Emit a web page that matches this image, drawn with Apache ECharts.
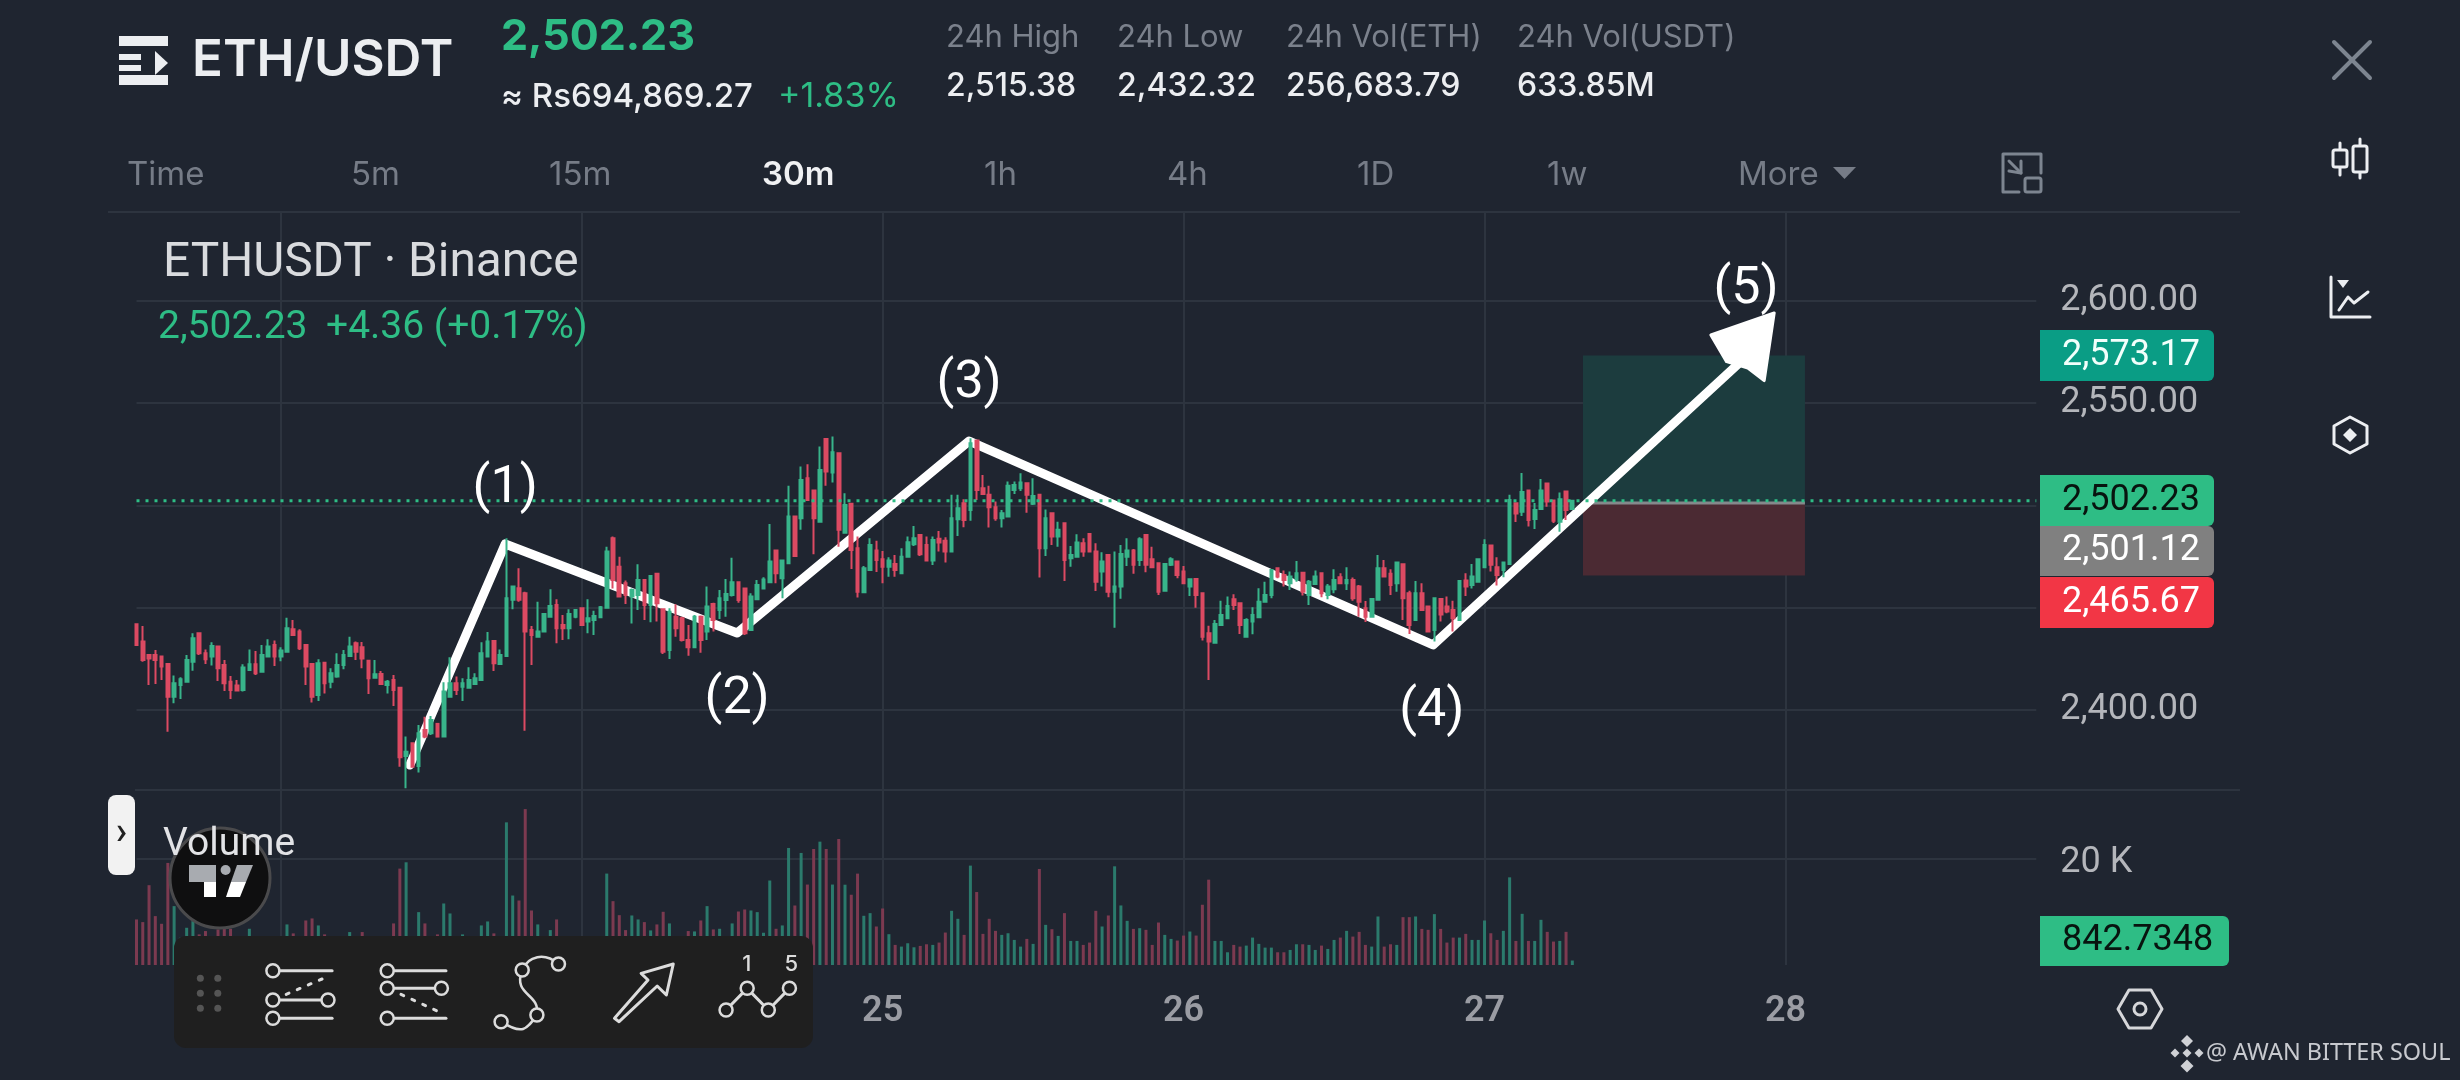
<!DOCTYPE html>
<html><head><meta charset="utf-8">
<style>html,body{margin:0;padding:0;background:#1f2530}#c{width:2460px;height:1080px}</style>
<script src="https://cdn.jsdelivr.net/npm/echarts@6/dist/echarts.min.js"></script>
</head><body><div id="c"></div>
<script>
const opens=[2441.9,2433.4,2426.9,2426.9,2426.1,2422.5,2406.5,2412.2,2413.8,2423.6,
2437.5,2427.7,2426.1,2431.0,2422.0,2413.8,2411.9,2409.8,2419.5,2422.3,
2418.7,2426.1,2431.8,2426.1,2428.5,2439.4,2438.3,2431.8,2422.5,2407.3,
2423.1,2413.8,2416.3,2422.0,2426.4,2432.6,2430.6,2424.1,2415.8,2417.6,
2412.2,2414.7,2410.8,2377.5,2383.7,2372.6,2390.2,2388.6,2393.2,2387.0,
2406.5,2413.0,2411.4,2410.9,2412.7,2414.7,2426.1,2433.7,2422.5,2426.4,
2453.8,2459.5,2457.0,2439.1,2435.8,2438.3,2445.6,2451.3,2441.5,2439.9,
2445.6,2449.7,2443.2,2444.0,2445.3,
2450.0,2483.9,2470.0,2461.9,2455.4,2456.2,2463.5,2451.3,2466.5,2449.2,
2429.3,2445.6,2444.8,2434.2,2430.6,2445.6,2438.3,2451.8,2448.9,2453.7,
2456.2,2462.4,2459.4,2439.1,2454.1,2459.4,2462.4,2477.9,2464.3,2471.7,
2494.5,2493.7,2513.2,2507.2,2492.0,2532.4,2516.0,2525.4,2486.6,2500.7,
2479.0,2457.5,2468.4,2477.9,2473.6,2470.0,2471.3,2466.8,2474.9,2481.0,
2485.5,2480.6,2473.0,2483.6,2482.7,2477.4,2493.2,2501.0,2497.7,2531.6,
2508.3,2505.1,2499.0,2493.7,2494.5,2507.5,2508.3,2510.8,2500.7,2505.1,
2479.0,2496.1,2484.7,2491.2,2474.1,2474.9,2481.4,2486.0,2477.4,
2467.6,2475.7,2457.8,2460.3,2474.9,2477.9,2473.3,2485.5,2473.6,2471.7,
2458.3,2470.9,2472.5,2467.6,2460.3,2464.0,2457.0,2437.5,2432.9,2441.5,
2444.8,2454.1,2452.1,2435.8,2443.2,2445.3,2452.9,2456.2,2469.2,2466.0,
2461.9,2463.9,2467.1,2456.2,2461.6,2466.8,2456.2,2459.0,2464.8,2461.9,
2463.5,2460.3,2449.7,2445.6,2453.8,2469.2,2466.5,2461.9,2471.2,2457.0,
2444.0,2457.0,2450.5,2439.1,2454.2,2450.5,2448.9,2444.0,2463.2,2461.1,
2462.7,2469.7,2480.3,2469.7,2468.4,2471.3,2501.0,2496.8,2507.2,2493.3,
2498.2,2510.7,2502.3,2492.0,2506.7,2498.2];
const closes=[2431.8,2424.4,2425.2,2424.4,2421.2,2406.5,2413.0,2415.0,2424.4,2435.0,
2427.7,2424.8,2431.3,2420.4,2413.0,2409.8,2409.5,2420.7,2422.3,2417.9,
2426.9,2431.0,2426.1,2429.0,2439.9,2436.6,2430.1,2421.2,2406.5,2422.8,
2413.0,2417.9,2422.0,2426.9,2431.0,2428.5,2425.2,2415.5,2417.4,2412.7,
2413.8,2409.8,2376.9,2379.6,2372.3,2388.6,2387.0,2395.1,2387.0,2409.0,
2413.0,2409.8,2413.0,2414.7,2415.5,2427.7,2433.4,2422.8,2426.9,2454.6,
2460.3,2453.8,2438.3,2436.6,2438.3,2446.9,2450.8,2439.9,2439.9,2446.9,
2448.9,2441.5,2444.8,2445.9,2450.2,
2477.4,2463.5,2455.4,2456.2,2458.6,2463.5,2451.3,2465.5,2452.1,2428.5,
2448.0,2439.9,2434.2,2430.6,2445.6,2434.2,2450.5,2444.0,2454.6,2456.7,
2462.4,2453.7,2437.5,2455.4,2461.1,2463.8,2472.5,2466.8,2473.0,2494.5,
2475.2,2512.4,2502.6,2493.7,2517.3,2516.5,2525.9,2488.0,2500.2,2478.2,
2457.8,2469.2,2480.6,2473.3,2470.0,2473.0,2468.4,2474.9,2481.9,2483.9,
2476.1,2473.0,2483.1,2481.8,2477.4,2493.7,2498.5,2492.8,2530.3,2507.5,
2505.5,2499.0,2493.7,2496.1,2509.5,2509.9,2511.1,2505.1,2504.6,2479.0,
2493.7,2484.7,2488.0,2473.3,2475.7,2481.8,2477.4,2477.4,2462.7,
2472.5,2457.8,2460.3,2476.2,2477.9,2470.9,2483.4,2470.9,2469.7,2457.8,
2471.3,2473.6,2466.0,2461.9,2463.9,2456.2,2435.8,2433.4,2442.0,2446.4,
2450.8,2451.3,2441.5,2444.0,2446.4,2452.9,2456.2,2468.4,2465.2,2463.5,
2465.2,2466.8,2457.8,2462.7,2465.2,2457.0,2460.3,2463.5,2461.9,2463.5,
2454.6,2452.9,2445.6,2454.2,2469.2,2465.2,2461.1,2472.0,2454.6,2441.5,
2457.0,2448.9,2438.3,2454.6,2446.7,2448.1,2444.8,2463.0,2460.3,2465.2,
2473.6,2480.6,2470.9,2466.0,2472.0,2502.6,2496.0,2506.5,2492.8,2497.7,
2507.2,2501.8,2492.4,2503.0,2497.7,2502.23];
const lows=[2431.3,2423.6,2412.2,2412.7,2414.7,2389.3,2403.3,2405.4,2413.4,2419.2,
2426.9,2422.5,2421.7,2414.2,2409.3,2405.4,2409.0,2409.0,2419.1,2417.1,
2418.6,2425.6,2421.5,2423.8,2428.3,2436.6,2429.3,2412.2,2403.6,2404.4,
2408.1,2410.6,2415.8,2419.9,2426.1,2424.4,2420.4,2407.8,2415.5,2412.2,
2408.1,2402.0,2372.3,2361.7,2372.0,2369.4,2386.2,2387.8,2387.0,2387.0,
2406.5,2407.3,2404.4,2410.9,2412.5,2414.7,2426.1,2419.1,2422.5,2426.4,
2449.2,2452.9,2389.9,2422.0,2435.5,2438.0,2445.3,2432.6,2434.2,2434.5,
2444.8,2441.0,2437.5,2436.6,2444.8,
2449.7,2459.4,2455.0,2451.8,2442.3,2448.9,2444.0,2442.8,2443.2,2427.4,
2424.9,2435.8,2433.4,2426.5,2430.1,2428.0,2434.2,2438.3,2444.5,2445.6,
2455.4,2452.4,2436.6,2439.1,2453.7,2459.1,2462.4,2461.9,2454.6,2471.3,
2474.9,2488.0,2502.6,2476.1,2492.0,2509.6,2511.1,2479.8,2486.3,2468.9,
2455.0,2457.0,2468.4,2467.4,2461.9,2465.1,2465.1,2466.5,2474.9,2480.1,
2475.2,2472.8,2470.8,2477.4,2472.0,2476.9,2485.0,2489.3,2492.5,2502.6,
2505.1,2489.1,2492.5,2489.1,2494.0,2505.5,2507.0,2496.4,2500.2,2464.7,
2475.2,2480.6,2479.8,2463.0,2470.0,2474.6,2474.9,2477.4,2458.1,
2460.3,2455.1,2440.2,2454.4,2470.4,2466.5,2470.4,2467.3,2469.7,2456.2,
2458.3,2470.4,2464.3,2461.9,2455.7,2450.0,2433.9,2414.7,2432.9,2441.5,
2444.8,2448.9,2437.1,2435.8,2437.0,2445.1,2452.9,2454.6,2464.3,2460.3,
2458.6,2462.7,2455.9,2451.3,2461.1,2455.1,2454.1,2457.0,2461.9,2458.6,
2453.4,2445.6,2443.0,2445.0,2453.8,2464.8,2456.2,2457.8,2444.0,2437.1,
2443.7,2448.9,2438.3,2433.4,2443.2,2447.2,2438.3,2444.0,2455.7,2459.3,
2462.7,2469.2,2467.6,2460.8,2464.8,2471.3,2491.8,2494.8,2489.6,2488.4,
2498.2,2499.3,2491.4,2487.1,2492.8,2498.0];
const highs=[2441.9,2441.0,2426.9,2429.3,2426.4,2422.8,2416.9,2416.0,2426.9,2437.5,
2437.5,2429.6,2433.1,2431.3,2424.4,2416.6,2414.7,2422.3,2429.6,2428.8,
2431.8,2434.5,2433.9,2430.6,2445.1,2444.0,2439.4,2431.8,2422.8,2424.8,
2423.6,2420.4,2427.7,2429.3,2435.8,2433.4,2433.2,2424.4,2424.4,2419.1,
2414.7,2417.1,2410.8,2387.0,2383.7,2392.7,2396.7,2397.1,2393.2,2413.5,
2425.7,2416.3,2415.5,2420.9,2417.9,2433.1,2438.1,2433.7,2429.6,2483.9,
2460.6,2469.2,2457.8,2441.0,2452.9,2446.9,2459.0,2454.1,2446.4,2449.2,
2449.2,2450.2,2454.1,2448.5,2450.8,
2479.8,2484.7,2474.9,2463.2,2459.4,2471.2,2463.8,2466.0,2466.8,2449.7,
2449.7,2451.6,2445.6,2441.5,2446.4,2446.1,2460.3,2452.4,2458.6,2464.0,
2474.4,2462.7,2459.4,2457.0,2463.5,2464.8,2490.9,2478.2,2473.3,2509.6,
2494.8,2518.9,2520.0,2507.5,2528.7,2532.7,2533.6,2525.7,2505.9,2501.0,
2484.7,2470.4,2483.9,2482.7,2477.7,2474.6,2475.7,2479.0,2484.7,2489.9,
2485.8,2484.7,2484.7,2487.5,2484.4,2505.1,2505.1,2502.9,2532.7,2531.9,
2514.8,2509.5,2501.8,2497.7,2511.6,2511.6,2515.6,2510.8,2513.2,2505.1,
2498.0,2496.4,2492.0,2491.2,2480.1,2485.8,2483.9,2486.3,2481.4,
2477.0,2476.2,2477.4,2480.6,2483.9,2478.7,2484.4,2486.0,2479.8,2472.0,
2471.7,2474.6,2472.8,2470.4,2464.0,2464.3,2457.0,2441.2,2444.0,2453.4,
2455.4,2456.5,2452.5,2444.8,2450.2,2459.5,2462.7,2468.4,2469.7,2468.1,
2467.6,2472.8,2467.3,2463.5,2468.1,2467.3,2461.6,2468.7,2466.8,2469.7,
2464.7,2461.1,2453.3,2454.6,2475.7,2473.3,2468.7,2472.5,2471.2,2458.3,
2463.0,2461.9,2450.5,2455.1,2454.6,2455.4,2453.4,2463.5,2466.8,2471.3,
2474.1,2483.4,2480.6,2474.6,2472.5,2505.1,2501.0,2515.8,2507.2,2501.1,
2512.9,2511.1,2502.3,2506.2,2506.7,2502.6];
const volumes=[8590,8090,15050,9220,7770,19250,11100,5140,7020,8280,
5770,6400,4830,6710,6830,6830,4830,4200,6830,3570,
3260,4200,4510,3570,7650,5960,4200,8400,8780,7460,
5770,4510,3570,3890,6210,4200,6210,4830,3570,4200,
3570,7840,18180,19370,4830,9970,7840,4510,5770,11600,
9720,4830,5770,4200,4510,7460,8210,5960,4830,26900,
13100,12160,29400,10280,7650,4830,6580,8590,4510,4200,
4830,4200,3570,4200,4830,17240,12040,9400,6580,9340,
8590,8090,6520,7650,10030,7840,4200,4510,6400,6330,
8400,11100,6710,6830,4510,7840,10090,10470,10280,9970,
6080,15930,6830,7460,22070,11220,21130,15170,21880,23260,
21880,15170,23760,15140,13250,17230,9280,9780,7260,10660,
5810,3790,3470,4100,3340,3600,3910,3790,4230,6120,
10220,8710,5680,18740,13760,5870,8710,6440,5680,5990,
4730,3470,4920,3980,18110,7570,6750,5490,9780,4540,
4540,3790,4230,10220,7260,9340,18610,11230,8330,6810,
6940,6630,3790,8010,5680,4920,4610,5550,6310,5550,
11360,16090,4540,4540,2400,3790,3470,3660,5170,3980,
3280,3280,2400,2400,2840,3910,3910,3790,2840,3660,
3030,4730,5170,6440,5360,6250,3790,3470,9150,3470,
3910,3790,9020,9020,9150,6810,6630,9590,6810,4230,
5170,5170,5870,4730,4730,8390,5990,4730,6440,16530,
4540,9650,4540,4540,8520,6250,4420,4540,6250,842.7348];

const slotCount=304;
const dayTicks=[23,71,119,167,215,263];
const dayNames=['23','24','25','26','27','28'];
const priceTicks=[2400,2450,2500,2550,2600];
const volumeTicks=[20000];
const lastPrice=2502.23, targetPrice=2573.17, entryPrice=2501.12, stopPrice=2465.67;
const boxSlots=[230.7,266.1];
const wavePoints=[[43.6,2373.1],[58.8,2481.1],[95.8,2437.6],[132.8,2531.4],[206.8,2431.8],[255.8,2570]];
const arrowHead=[[261.2,2594],[251.1,2583.2],[253.6,2570.2],[257,2567.1],[259.6,2560.9]];
const waveLabels=[[58.8,2508.2,'(1)'],[95.8,2405,'(2)'],[132.8,2559.5,'(3)'],[206.6,2399.2,'(4)'],[256.7,2605.4,'(5)']];

const UP='#38b48a',DOWN='#dc4a62',VUP='#2b7a6c',VDOWN='#7c3a50',BG='#1f2530',GRID='#2d343f';
const categories=Array.from({length:slotCount},(_,i)=>{const k=dayTicks.indexOf(i);return k>=0?dayNames[k]:String(i);});
const isDay=i=>dayTicks.includes(i);
const candleData=opens.map((o,i)=>[o,closes[i],lows[i],highs[i]]);
const volumeData=volumes.map((v,i)=>({value:v,itemStyle:{color:closes[i]>=opens[i]?VUP:VDOWN}}));

/* chrome helpers */
const F='Roboto, sans-serif', I='Inter, sans-serif';
const Z=100;
function T(x,y,s,size,fill,weight,fam,align){return {type:'text',z:Z,silent:true,style:{text:s,x,y,fill,font:(weight||400)+' '+size+'px '+(fam||I),align:align||'left',verticalAlign:'middle',textAlign:align||'left',textVerticalAlign:'middle'}};}
function L(pts,c,w,dash){return {type:'polyline',z:Z,silent:true,shape:{points:pts},style:{stroke:c,lineWidth:w,fill:null,lineDash:dash||null,lineCap:'round',lineJoin:'round'}};}
function R(x,y,w,h,fill,r,stroke,lw){return {type:'rect',z:Z,silent:true,shape:{x,y,width:w,height:h,r:r||0},style:{fill:fill||null,stroke:stroke||null,lineWidth:lw||0}};}
function C(x,y,r,fill,stroke,lw){return {type:'circle',z:Z,silent:true,shape:{cx:x,cy:y,r},style:{fill:fill||null,stroke:stroke||null,lineWidth:lw||0}};}
function P(pts,fill,stroke,lw){return {type:'polygon',z:Z,silent:true,shape:{points:pts},style:{fill:fill||null,stroke:stroke||null,lineWidth:lw||0,lineJoin:'round'}};}
const tz=(a,b)=>[120+a/2.178,800+b/3];
const ICON='#dcdcdc';
const g=[];
/* header */
g.push(R(119,36,49,10,'#eceef1'),R(119,54,22,6,'#eceef1'),R(119,65,22,6,'#eceef1'),P([[155,51],[168,63],[155,75]],'#eceef1'),R(119,75,49,10,'#eceef1'));
g.push(T(192,61,'ETH/USDT',51,'#eceef1',600));
g.push(T(501,37,'2,502.23',43,'#2ebd85',700));
g.push(T(501,97,'≈ Rs694,869.27',33,'#eceef1',500));
g.push(T(778,97,'+1.83%',34,'#2ebd85',400));
[['24h High','2,515.38',946],['24h Low','2,432.32',1117],['24h Vol(ETH)','256,683.79',1286],['24h Vol(USDT)','633.85M',1517]].forEach(r=>{
  g.push(T(r[2],38,r[0],31,'#7b818c',400));g.push(T(r[2],86,r[1],32,'#eceef1',500));});
[['Time',127],['5m',351],['15m',549],['30m',762],['1h',984],['4h',1167],['1D',1357],['1w',1547],['More',1738]].forEach(r=>{
  g.push(T(r[1],175,r[0],33,r[0]==='30m'?'#f0f1f3':'#767c87',r[0]==='30m'?600:400));});
g.push(P([[1833,167],[1856,167],[1844.5,179]],'#767c87'));
g.push(L([[2019,192],[2003,192],[2003,154],[2041,154],[2041,173]],'#7d8590',3));
g.push(R(2025,178,16,14,null,2,'#7d8590',3));
g.push(L([[2009,161],[2021,173]],'#7d8590',3),L([[2009,171],[2021,173],[2021,161]],'#7d8590',3));
/* right rail */
g.push(L([[2334,42],[2370,78]],'#7d8590',4),L([[2370,42],[2334,78]],'#7d8590',4));
g.push(L([[2340,143],[2340,175]],'#eceef1',3),R(2333,150,14,17,BG,2,'#eceef1',3),L([[2360,139],[2360,178]],'#eceef1',3),R(2353,146,14,26,BG,2,'#eceef1',3));
g.push(L([[2331,277],[2331,317],[2370,317]],'#eceef1',3),L([[2339,310],[2348,297],[2354,303],[2368,292]],'#eceef1',3),P([[2337,280],[2349,280],[2343,288]],'#eceef1'));
g.push(P([[2350,417],[2367,426],[2367,444],[2350,453],[2334,444],[2334,426]],null,'#eceef1',3),P([[2350,428],[2357,435],[2350,442],[2343,435]],'#eceef1'));
/* pane dividers */
g.push({type:'line',z:1,silent:true,shape:{x1:108,y1:212,x2:2240,y2:212},style:{stroke:GRID,lineWidth:2}});
g.push({type:'line',z:1,silent:true,shape:{x1:135,y1:790,x2:2240,y2:790},style:{stroke:GRID,lineWidth:2}});
/* pane titles */
g.push(T(163,264,'ETHUSDT · Binance',47.8,'#d9dbde',400,F));
g.push(T(158,328,'2,502.23',39,'#2ebd85',400,F),T(326,328,'+4.36 (+0.17%)',39,'#2ebd85',400,F));
/* TV logo + volume */
g.push(C(220,878,50,'#0f0f10','#4a4a4c',3));
g.push(R(189,865,27,17,'#a8abb0'),R(204,882,12,15,'#ffffff'),C(225.6,870,5,'#a8abb0'));
g.push(P([[237,865],[253,865],[246,882],[231,882]],'#a8abb0'),P([[231,882],[246,882],[240,897],[226,897]],'#ffffff'));
g.push(T(163,845,'Volume',39,'#e2e3e6',400,F));
g.push(R(108,795,27,80,'#f2f2f2',8),T(121.5,834,'›',38,'#222',500,F,'center'));
/* toolbar */
g.push(R(174,936,639,112,'#1f1f1f',12));
[[175,535],[213,535],[175,580],[213,580],[175,625],[213,625]].forEach(p=>{const q=tz(p[0],p[1]);g.push(C(q[0],q[1],3.5,'#555'));});
const ring=(a,b)=>{const q=tz(a,b);return C(q[0],q[1],6.5,'#1f1f1f',ICON,2.5);};
g.push(L([tz(347,512),tz(462,512)],ICON,3),L([tz(347,600),tz(438,600)],ICON,3),L([tz(347,655),tz(462,655)],ICON,3),L([tz(362,583),tz(452,530)],ICON,3,[3,9]),ring(333,512),ring(333,600),ring(453,600),ring(333,655));
g.push(L([tz(596,512),tz(710,512)],ICON,3),L([tz(596,565),tz(686,565)],ICON,3),L([tz(596,655),tz(710,655)],ICON,3),L([tz(612,583),tz(697,637)],ICON,3,[3,9]),ring(582,512),ring(582,565),ring(700,565),ring(582,655));
{const a=tz(830,665),b=tz(908,645),c=tz(876,510),d=tz(955,492);
 g.push({type:'bezierCurve',z:Z,silent:true,shape:{x1:a[0],y1:a[1],x2:b[0],y2:b[1],cpx1:a[0]+22,cpy1:a[1]+14,cpx2:b[0]-10,cpy2:b[1]+14},style:{stroke:ICON,lineWidth:2.5,fill:null}});
 g.push({type:'bezierCurve',z:Z,silent:true,shape:{x1:b[0],y1:b[1],x2:c[0],y2:c[1],cpx1:b[0]+4,cpy1:b[1]-22,cpx2:c[0]-10,cpy2:c[1]+26},style:{stroke:ICON,lineWidth:2.5,fill:null}});
 g.push({type:'bezierCurve',z:Z,silent:true,shape:{x1:c[0],y1:c[1],x2:d[0],y2:d[1],cpx1:c[0]+6,cpy1:c[1]-14,cpx2:d[0]-14,cpy2:d[1]-12},style:{stroke:ICON,lineWidth:2.5,fill:null}});
 g.push(ring(876,510),ring(955,492),ring(908,645),ring(830,665));}
g.push(P([tz(1205,492),tz(1190,585),tz(1170,558),tz(1087,665),tz(1077,655),tz(1150,540),tz(1135,520)],null,ICON,3));
g.push(L([tz(1320,630),tz(1366,565),tz(1412,630),tz(1458,565)],ICON,3),ring(1320,630),ring(1366,565),ring(1412,630),ring(1458,565));
{const a=tz(1365,492),b=tz(1462,492);g.push(T(a[0],a[1],'1',22,ICON,500,I,'center'),T(b[0],b[1],'5',22,ICON,500,I,'center'));}
/* price tags */
[['2,573.17',330,51,'#0a9d85','#f2fffb'],['2,502.23',475,51,'#2ebd85','#08140f'],['2,501.12',526,50,'#808080','#ffffff'],['2,465.67',577,51,'#f23645','#ffffff']].forEach(r=>{
  g.push(R(2040,r[1],174,r[2],r[3],[0,6,6,0]),T(2062,r[1]+r[2]/2,r[0],36,r[4],400,F));});
g.push(R(2040,916,189,50,'#2ebd85',[0,6,6,0]),T(2062,941,'842.7348',36,'#08140f',400,F));
/* bottom hexagon & watermark */
g.push(P([[2118,1009],[2129,990],[2151,990],[2162,1009],[2151,1028],[2129,1028]],null,'#d6d7da',3),C(2140,1009,6,null,'#d6d7da',3));
[[2187,1041,6],[2175,1053,4.5],[2199,1053,4.5],[2187,1053,4.5],[2187,1066,6.5]].forEach(d=>g.push(P([[d[0],d[1]-d[2]],[d[0]+d[2],d[1]],[d[0],d[1]+d[2]],[d[0]-d[2],d[1]]],'#cfd1d5')));
g.push(T(2206,1053,'@ AWAN BITTER SOUL',23.4,'#c8cacf',400,'"Noto Sans", sans-serif'));

const yLabel={color:'#b4b6bb',fontSize:36,fontFamily:'Roboto',margin:24};
const option={
 animation:false,backgroundColor:BG,
 grid:[{left:136.5,right:423.7,top:212,height:578},{left:136.5,right:423.7,top:790,height:175}],
 xAxis:[
  {type:'category',gridIndex:0,data:categories,boundaryGap:false,
   axisLine:{show:false},axisTick:{show:false,interval:isDay},axisLabel:{show:false,interval:isDay},
   splitLine:{show:true,interval:isDay,lineStyle:{color:GRID,width:2}}},
  {type:'category',gridIndex:1,data:categories,boundaryGap:false,
   axisLine:{show:false},axisTick:{show:false,interval:isDay},
   axisLabel:{interval:isDay,color:'#9a9ca3',fontSize:36,fontWeight:600,fontFamily:'Roboto',margin:29},
   splitLine:{show:true,interval:isDay,lineStyle:{color:GRID,width:2}}},
  {type:'value',gridIndex:0,min:0,max:slotCount-1,show:false,splitLine:{show:false}}
 ],
 yAxis:[
  {type:'value',gridIndex:0,position:'right',min:2360.9,max:2643.3,
   axisLine:{show:false},axisTick:{show:false,customValues:priceTicks},
   axisLabel:{...yLabel,customValues:priceTicks,formatter:v=>v.toLocaleString('en-US',{minimumFractionDigits:2,maximumFractionDigits:2})},
   splitLine:{show:true,lineStyle:{color:GRID,width:2}}},
  {type:'value',gridIndex:1,position:'right',min:0,max:33000,
   axisLine:{show:false},axisTick:{show:false,customValues:volumeTicks},
   axisLabel:{...yLabel,customValues:volumeTicks,formatter:v=>'{a|'+(v/1000)+' K}',
     rich:{a:{color:'#b4b6bb',fontSize:36,fontFamily:'Roboto',padding:[9,0,0,0]}}},
   splitLine:{show:true,lineStyle:{color:GRID,width:2}}}
 ],
 series:[
  {type:'custom',name:'Position',xAxisIndex:2,yAxisIndex:0,z:2,silent:true,clip:false,
   data:[[boxSlots[0],targetPrice]],encode:{x:0,y:1},
   renderItem:(p,api)=>{
     const a=api.coord([boxSlots[0],targetPrice]),b=api.coord([boxSlots[1],entryPrice]),c=api.coord([boxSlots[1],stopPrice]);
     return {type:'group',children:[
      {type:'rect',shape:{x:a[0],y:a[1],width:b[0]-a[0],height:b[1]-a[1]},style:{fill:'#1c3c3e'}},
      {type:'rect',shape:{x:a[0],y:b[1],width:b[0]-a[0],height:c[1]-b[1]},style:{fill:'#4b2a33'}},
      {type:'line',shape:{x1:a[0],y1:b[1],x2:b[0],y2:b[1]},style:{stroke:'#85898c',lineWidth:3}}]};}},
  {type:'line',name:'Waves',xAxisIndex:2,yAxisIndex:0,z:3,silent:true,symbol:'none',data:wavePoints,
   lineStyle:{color:'#ffffff',width:9,join:'round',cap:'round'}},
  {type:'custom',name:'Arrow',xAxisIndex:2,yAxisIndex:0,z:3,silent:true,clip:false,
   data:[arrowHead[0]],encode:{x:0,y:1},
   renderItem:(p,api)=>({type:'polygon',shape:{points:arrowHead.map(q=>api.coord(q))},style:{fill:'#ffffff',stroke:'#ffffff',lineWidth:3,lineJoin:'round'}})},
  {type:'candlestick',name:'ETHUSDT',xAxisIndex:0,yAxisIndex:0,z:4,barWidth:3.2,data:candleData,
   itemStyle:{color:UP,color0:DOWN,borderColor:UP,borderColor0:DOWN,borderWidth:2}},
  {type:'line',name:'Last',xAxisIndex:2,yAxisIndex:0,z:5,silent:true,symbol:'none',data:[[0,lastPrice],[slotCount-1,lastPrice]],
   lineStyle:{color:'#2ebd85',width:3,type:[3,6]}},
  {type:'scatter',name:'Labels',xAxisIndex:2,yAxisIndex:0,z:6,silent:true,symbolSize:1,itemStyle:{color:'rgba(0,0,0,0)'},data:waveLabels,
   encode:{x:0,y:1},
   label:{show:true,position:'inside',opacity:1,formatter:p=>p.value[2],color:'#ffffff',fontSize:52,fontWeight:400,fontFamily:'Roboto',textBorderWidth:0}},
  {type:'bar',name:'Volume',xAxisIndex:1,yAxisIndex:1,barWidth:3,data:volumeData,silent:true}
 ],
 graphic:{elements:g}
};
echarts.init(document.getElementById('c'),null,{renderer:'canvas'}).setOption(option);
</script></body></html>
